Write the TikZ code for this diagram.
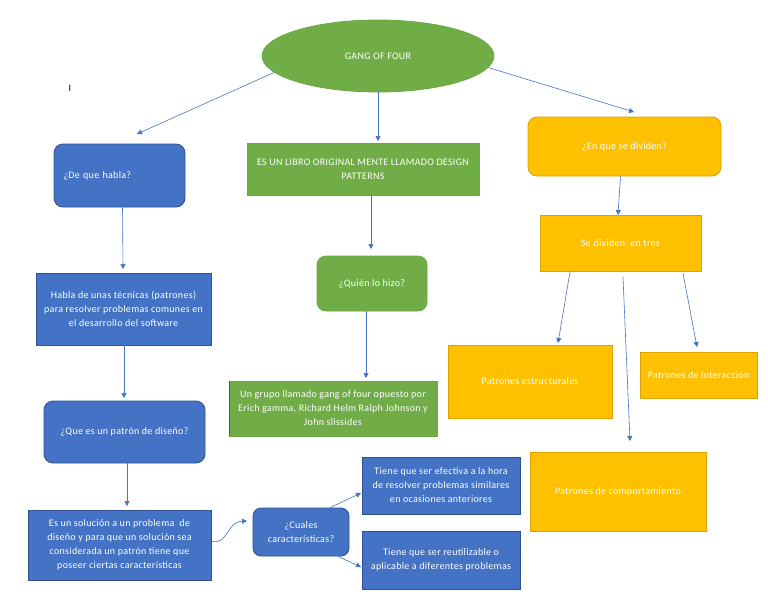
\documentclass[tikz,border=0pt]{standalone}
\usepackage{fontspec}
\setmainfont{Carlito}[LetterSpace=3]
\usetikzlibrary{arrows.meta,shapes.geometric}
\definecolor{bfill}{HTML}{4472C4}
\definecolor{bdraw}{HTML}{2F528F}
\definecolor{gfill}{HTML}{70AD47}
\definecolor{gdraw}{HTML}{6AA843}
\definecolor{ofill}{HTML}{FFC000}
\definecolor{odraw}{HTML}{D9A300}
\definecolor{arr}{HTML}{4472C4}
\tikzset{
  box/.style={inner sep=2pt, text=white, align=center, font=\fontsize{10}{14}\selectfont, line width=0.8pt},
  bluebox/.style={box, fill=bfill, draw=bdraw},
  greenbox/.style={box, fill=gfill, draw=gdraw},
  orangebox/.style={box, fill=ofill, draw=odraw},
  conn/.style={draw=arr, line width=0.6pt, -{Triangle[width=5pt,length=5pt]}},
}
\begin{document}
\begin{tikzpicture}[x=1pt,y=-1pt]
\useasboundingbox (0,0) rectangle (768,594);
\fill[white] (0,0) rectangle (768,594);
% nodes (pixel boxes)
\node[greenbox, ellipse, minimum width=232, minimum height=72] (gof) at (378,56) {GANG OF FOUR};
\node[bluebox, rounded corners=9, minimum width=131, minimum height=63, text width=112, align=left] (habla) at (119.5,175.5) {¿De que habla?};
\node[greenbox, minimum width=232, minimum height=52] (libro) at (363,169) {ES UN LIBRO ORIGINAL MENTE LLAMADO DESIGN\\PATTERNS};
\node[orangebox, rounded corners=9, minimum width=193, minimum height=59] (dividen) at (624.5,146.5) {¿En que se dividen?};
\node[orangebox, minimum width=161, minimum height=56] (tres) at (620.5,243) {Se dividen\ \ en tres};
\node[bluebox, minimum width=175, minimum height=72] (tecnicas) at (123.5,309) {Habla de unas técnicas (patrones)\\para resolver problemas comunes en\\el desarrollo del software};
\node[greenbox, rounded corners=9, minimum width=110, minimum height=55] (quien) at (372,283.5) {¿Quién lo hizo?};
\node[greenbox, minimum width=208, minimum height=55] (grupo) at (333,408.5) {Un grupo llamado gang of four opuesto por\\Erich gamma, Richard Helm Ralph Johnson y\\John slissides};
\draw[color=gray!70!black, line width=1.6pt] ([xshift=0.8pt]grupo.north west) -- ([xshift=0.8pt]grupo.south west);
\node[bluebox, rounded corners=9, minimum width=161, minimum height=62] (patron) at (124.5,432) {¿Que es un patrón de diseño?};
\node[orangebox, minimum width=164, minimum height=73] (estruct) at (530,381.5) {Patrones estructurales};
\node[orangebox, minimum width=117, minimum height=46] (interac) at (698.5,375) {Patrones de interacción};
\node[orangebox, minimum width=176, minimum height=79] (comport) at (618,491.5) {Patrones de comportamiento};
\node[bluebox, minimum width=183, minimum height=70] (solucion) at (119.5,545) {Es un solución a un problema\ \ de\\diseño y para que un solución sea\\considerada un patrón tiene que\\poseer ciertas características};
\node[bluebox, rounded corners=8, minimum width=96, minimum height=48] (cuales) at (301,532) {¿Cuales\\características?};
\node[bluebox, minimum width=158, minimum height=57] (efectiva) at (441,485.5) {Tiene que ser efectiva a la hora\\de resolver problemas similares\\en ocasiones anteriores};
\node[bluebox, minimum width=158, minimum height=58] (reutil) at (441,560) {Tiene que ser reutilizable o\\aplicable a diferentes problemas};
\node[font=\fontsize{10}{10}\selectfont, inner sep=0pt] (cursor) at (70,88) {I};
% connectors
\coordinate (a1) at (137,134);
\draw[conn] (gof.189) -- (a1);
\coordinate (a2) at (378,141);
\draw[conn] (gof.south) -- (a2);
\coordinate (a3) at (634,112);
\draw[conn] (gof.-6) -- (a3);
\coordinate (a4) at (123,269);
\draw[conn] ([xshift=3pt]habla.south) -- (a4);
\coordinate (a5) at (371,249);
\draw[conn] ([xshift=8pt]libro.south) -- (a5);
\coordinate (a6) at (618,215);
\draw[conn] ([xshift=-4pt]dividen.south) -- (a6);
\coordinate (a7) at (124,398);
\draw[conn] ([xshift=0.5pt]tecnicas.south) -- (a7);
\coordinate (a8) at (366,378);
\draw[conn] ([xshift=-6pt]quien.south) -- (a8);
\coordinate (a9) at (127,506);
\draw[conn] ([xshift=2.5pt]patron.south) -- (a9);
\coordinate (b1) at (558,343);
\draw[conn] (570,272) -- (b1);
\coordinate (b2) at (630,441);
\draw[conn] (623,277) -- (b2);
\coordinate (b3) at (697,347);
\draw[conn] (683,273) -- (b3);
\coordinate (c1) at (247,521);
\draw[conn] ([yshift=4pt]solucion.east) .. controls (228,546) and (226,522) .. (c1);
\coordinate (c2) at (361,493);
\draw[conn] ([xshift=29pt]cuales.north) -- (c2);
\coordinate (c3) at (361,567);
\draw[conn] ([xshift=37pt]cuales.south) -- (c3);
\end{tikzpicture}
\end{document}
